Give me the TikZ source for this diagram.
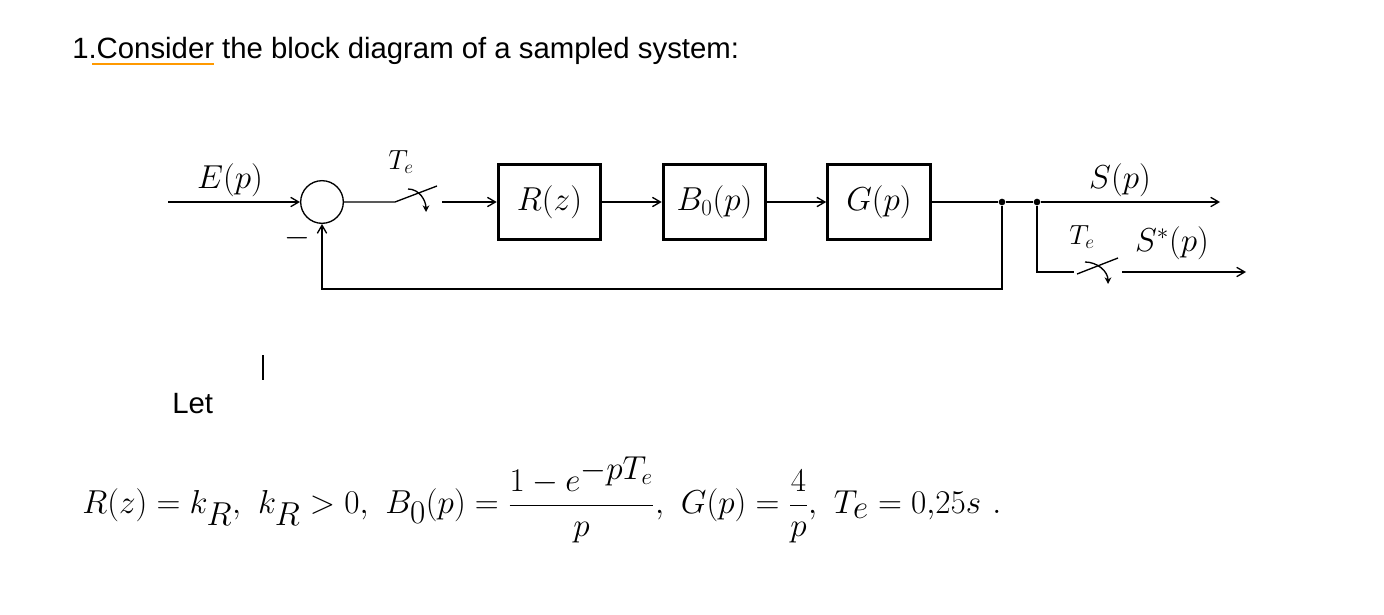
\documentclass[tikz,border=0pt]{standalone}
\usepackage{amsmath}
\usepackage{fontspec}
\setmainfont{Liberation Serif}
\newfontfamily\arialf{Liberation Sans}
\usetikzlibrary{arrows.meta}
\begin{document}
\begin{tikzpicture}[x=0.75pt,y=-0.75pt,
  blk/.style={draw,line width=2.2pt,minimum width=77pt,minimum height=56pt,inner sep=0pt,font=\fontsize{24}{28}\selectfont},
  lbl/.style={font=\fontsize{24}{28}\selectfont,inner sep=0pt},
  sig/.style={line width=1pt,-{Straight Barb[length=6pt,width=7pt]}},
  ln/.style={line width=1pt},
  dot/.style={circle,fill,inner sep=0pt,minimum size=5pt}]
\useasboundingbox (0,0) rectangle (1384,614);
\node[anchor=base west,inner sep=0pt,font=\arialf\fontsize{22}{26}\selectfont] (title) at (72,58) {1.Consider the block diagram of a sampled system:};
\draw[orange!80!yellow,line width=1.8pt] (92,64) -- (214,64);
% blocks
\node[circle,draw,line width=1pt,minimum size=32pt,inner sep=0pt] (sum) at (322,202) {};
\node[blk] (R) at (549.5,202) {$R(z)$};
\node[blk] (B) at (714.5,202) {$B_0(p)$};
\node[blk] (G) at (879,202) {$G(p)$};
\coordinate (in) at (168,202);
\coordinate (s1) at (395,202);
\coordinate (s1b) at (437,186);
\coordinate (s1o) at (442,202);
\node[dot] (d1) at (1002,202) {};
\node[dot] (d2) at (1037,202) {};
\coordinate (out) at (1220,202);
\coordinate (c2) at (1037,272);
\coordinate (s2) at (1074,272);
\coordinate (s2b) at (1118,258);
\coordinate (s2o) at (1122,272);
\coordinate (out2) at (1246,272);
\coordinate (fb1) at (1002,289);
\coordinate (fb2) at (322,289);
\draw[sig] (in) -- (sum.west);
\draw[ln] (sum.east) -- (s1) -- (s1b);
\draw[line width=1pt,-{Stealth[length=5pt,width=5pt]}] (408,189) to[out=0,in=90] (426,212);
\draw[sig] (s1o) -- (R.west);
\draw[sig] (R.east) -- (B.west);
\draw[sig] (B.east) -- (G.west);
\draw[ln] (G.east) -- (d1) -- (d2);
\draw[sig] (d2) -- (out);
\draw[ln] (d2) -- (c2) -- (s2);
\draw[ln] (1077,274) -- (s2b);
\draw[line width=1pt,-{Stealth[length=5pt,width=5pt]}] (1085,262) to[out=0,in=90] (1108,284);
\draw[sig] (s2o) -- (out2);
\draw[sig] (d1) -- (fb1) -- (fb2) -- (sum.south);
\node[lbl] (lE) at (230,180) {$E(p)$};
\node[lbl,font=\fontsize{20}{24}\selectfont] (lT1) at (401,162) {$T_e$};
\node[lbl] (lm) at (297,238) {$-$};
\node[lbl] (lS) at (1120,180) {$S(p)$};
\node[lbl,font=\fontsize{20}{24}\selectfont] (lT2) at (1082,237) {$T_e$};
\node[lbl] (lSs) at (1172,243) {$S^*(p)$};
\draw[line width=1.5pt] (263,355) -- (263,380);
\node[anchor=base west,inner sep=0pt,font=\arialf\fontsize{22}{26}\selectfont] (let) at (172,413) {Let};
\node[anchor=west,inner sep=0pt,font=\fontsize{34}{40}\selectfont] (eq) at (82,500)
 {$R(z)=k_R,\ k_R>0,\ B_0(p)=\dfrac{1-e^{-pT_e}}{p},\ G(p)=\dfrac{4}{p},\ T_e=0{,}25s\ .$};
\end{tikzpicture}
\end{document}
